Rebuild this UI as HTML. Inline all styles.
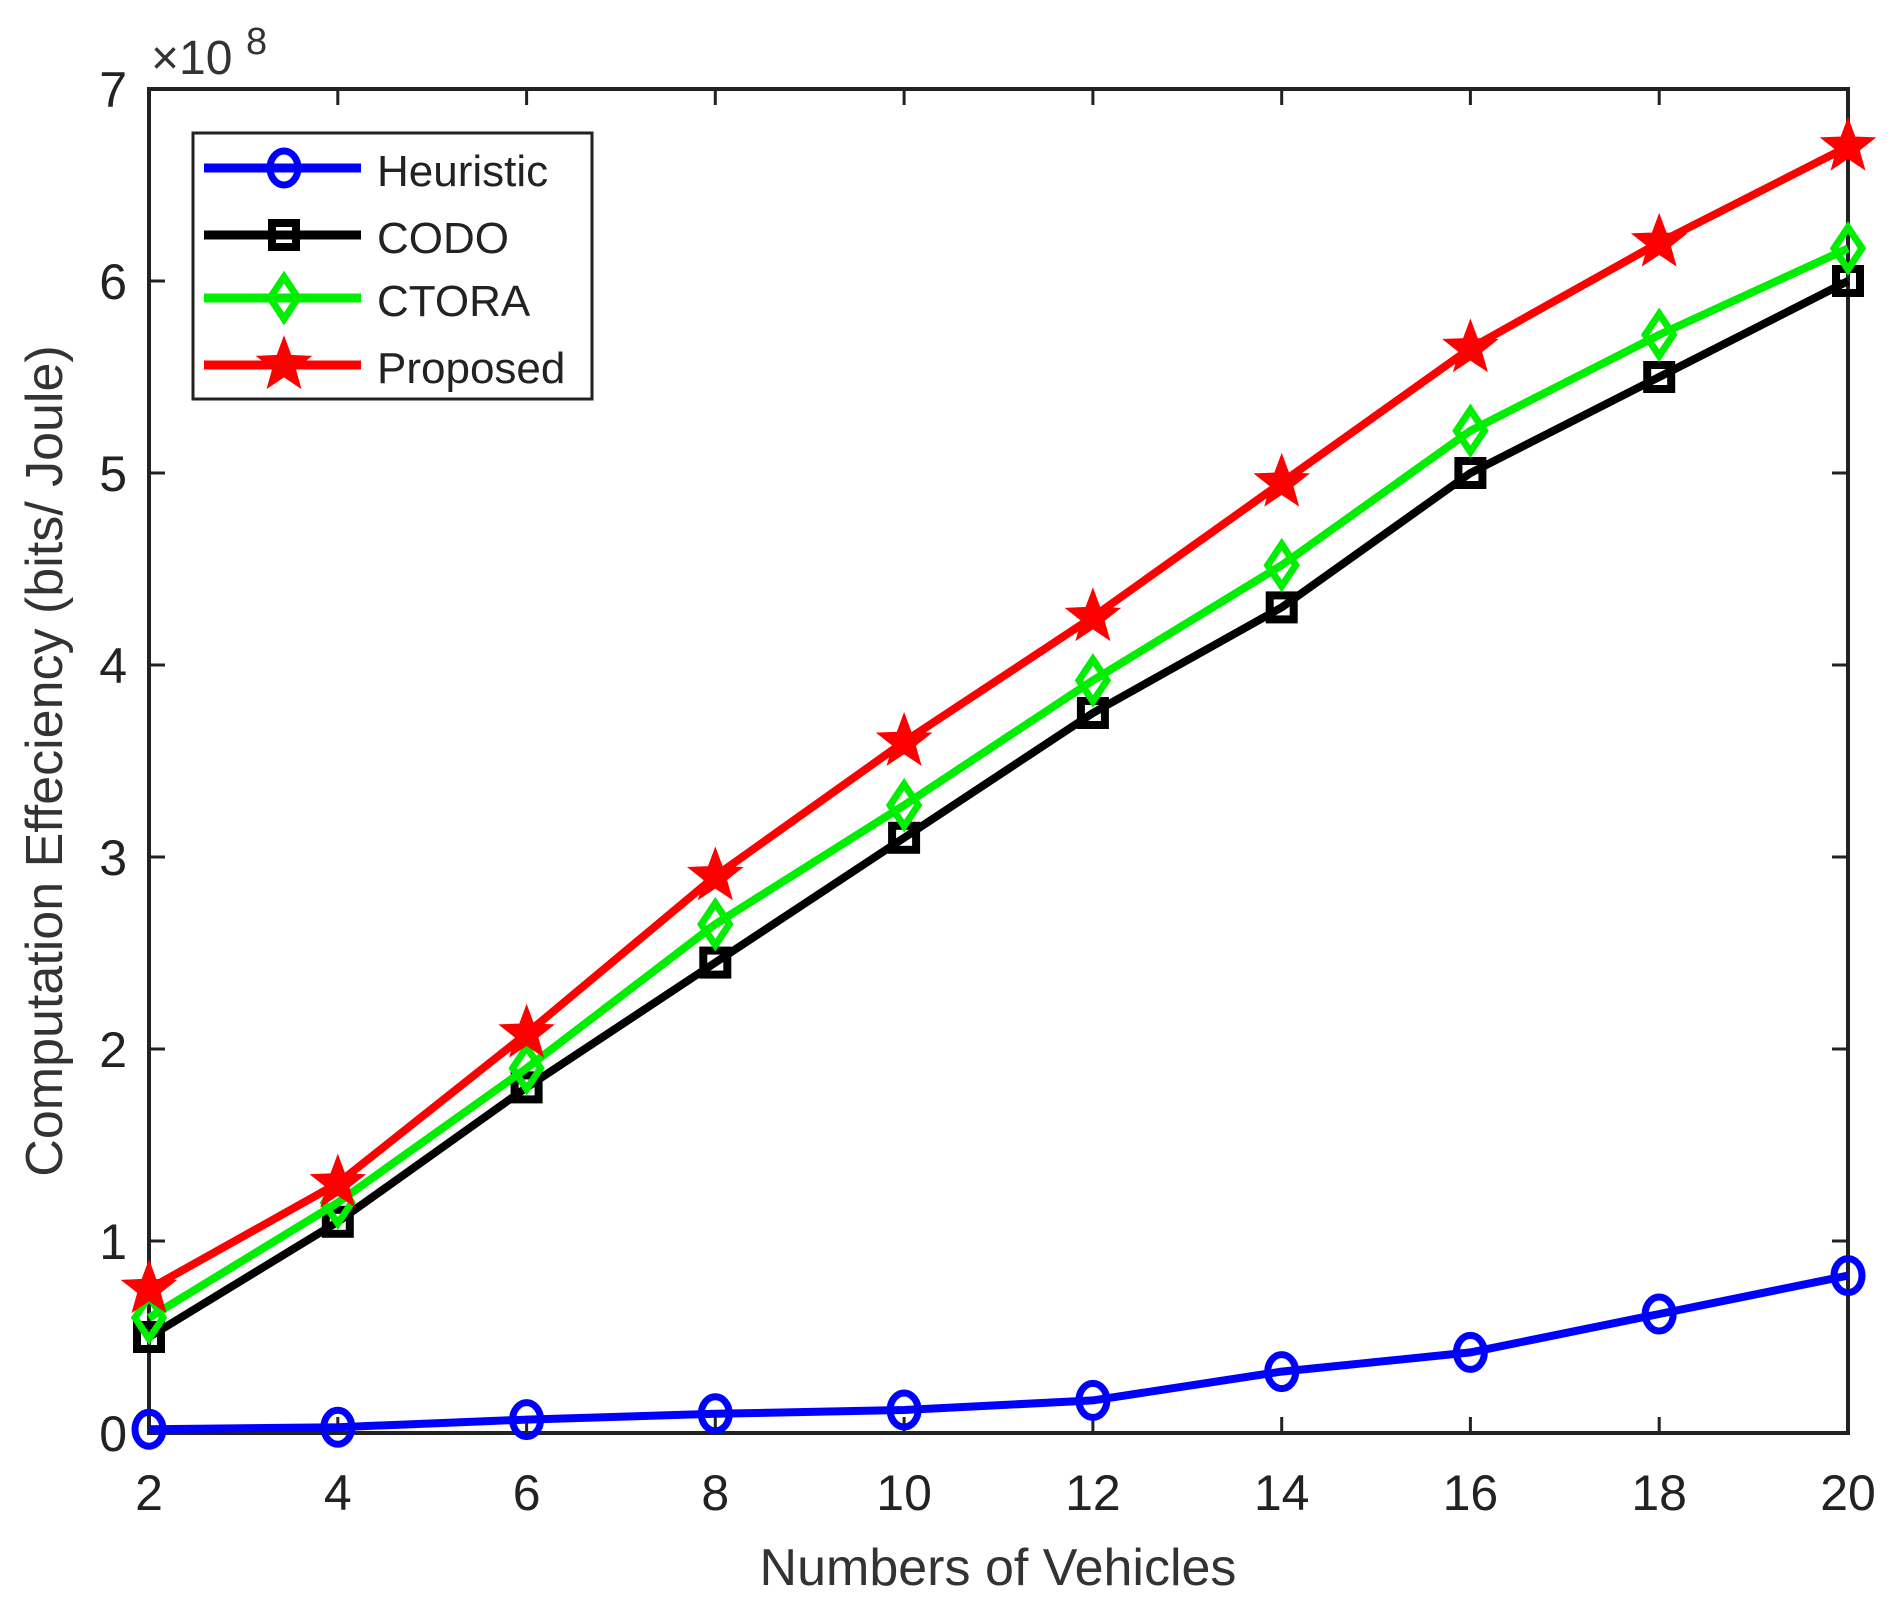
<!DOCTYPE html>
<html><head><style>body{margin:0;background:#fff}</style></head><body>
<svg width="1894" height="1619" xmlns="http://www.w3.org/2000/svg" font-family="Liberation Sans, sans-serif">
<defs>
<ellipse id="mh" cx="0" cy="0" rx="14" ry="17" fill="none" stroke="#0000ff" stroke-width="7"/>
<rect id="mc" x="-12" y="-12" width="24" height="24" fill="none" stroke="#000" stroke-width="8"/>
<polygon id="mt" points="0,-21 14,0 0,21 -14,0" fill="none" stroke="#00ee00" stroke-width="7"/>
<polygon id="mp" points="0,-24 5.9,-8.1 22.8,-7.4 9.5,3.1 14.1,19.4 0,10 -14.1,19.4 -9.5,3.1 -22.8,-7.4 -5.9,-8.1" fill="#ff0000" stroke="#ff0000" stroke-width="4"/>
</defs>
<rect width="1894" height="1619" fill="#fff"/>
<g stroke="#222" stroke-width="3">
<path d="M337.8 1433v-16M526.6 1433v-16M715.3 1433v-16M904.1 1433v-16M1092.9 1433v-16M1281.7 1433v-16M1470.4 1433v-16M1659.2 1433v-16
M337.8 89v16M526.6 89v16M715.3 89v16M904.1 89v16M1092.9 89v16M1281.7 89v16M1470.4 89v16M1659.2 89v16
M149 1241h16M149 1049h16M149 857h16M149 665h16M149 473h16M149 281h16
M1848 1241h-16M1848 1049h-16M1848 857h-16M1848 665h-16M1848 473h-16M1848 281h-16"/>
</g>
<rect x="149" y="89" width="1699" height="1344" fill="none" stroke="#222" stroke-width="4"/>
<g font-size="50" text-anchor="middle" fill="#222">
<text x="149" y="1510">2</text><text x="337.8" y="1510">4</text><text x="526.6" y="1510">6</text><text x="715.3" y="1510">8</text><text x="904.1" y="1510">10</text><text x="1092.9" y="1510">12</text><text x="1281.7" y="1510">14</text><text x="1470.4" y="1510">16</text><text x="1659.2" y="1510">18</text><text x="1848" y="1510">20</text>
</g>
<g font-size="50" text-anchor="end" fill="#222">
<text x="127" y="1451">0</text><text x="127" y="1259">1</text><text x="127" y="1067">2</text><text x="127" y="875">3</text><text x="127" y="683">4</text><text x="127" y="491">5</text><text x="127" y="299">6</text><text x="127" y="107">7</text>
</g>
<text x="151" y="74" font-size="48" fill="#333">×10</text><text x="246" y="54" font-size="38" fill="#333">8</text>
<text x="998" y="1585" font-size="52" text-anchor="middle" fill="#333">Numbers of Vehicles</text>
<text transform="translate(62,761) rotate(-90)" font-size="52" text-anchor="middle" fill="#333">Computation Effeciency (bits/ Joule)</text>

<polyline fill="none" stroke="#0000ff" stroke-width="8" points="149,1429.2 337.8,1427.2 526.6,1419.6 715.3,1413.8 904.1,1410 1092.9,1400.4 1281.7,1371.6 1470.4,1352.4 1659.2,1314 1848,1275.6"/>
<use href="#mh" x="149" y="1429.2"/><use href="#mh" x="337.8" y="1427.2"/><use href="#mh" x="526.6" y="1419.6"/><use href="#mh" x="715.3" y="1413.8"/><use href="#mh" x="904.1" y="1410"/><use href="#mh" x="1092.9" y="1400.4"/><use href="#mh" x="1281.7" y="1371.6"/><use href="#mh" x="1470.4" y="1352.4"/><use href="#mh" x="1659.2" y="1314"/><use href="#mh" x="1848" y="1275.6"/>

<polyline fill="none" stroke="#000" stroke-width="8" points="149,1337 337.8,1221.8 526.6,1087.4 715.3,962.6 904.1,837.8 1092.9,713 1281.7,607.4 1470.4,473 1659.2,377 1848,281"/>
<use href="#mc" x="149" y="1337"/><use href="#mc" x="337.8" y="1221.8"/><use href="#mc" x="526.6" y="1087.4"/><use href="#mc" x="715.3" y="962.6"/><use href="#mc" x="904.1" y="837.8"/><use href="#mc" x="1092.9" y="713"/><use href="#mc" x="1281.7" y="607.4"/><use href="#mc" x="1470.4" y="473"/><use href="#mc" x="1659.2" y="377"/><use href="#mc" x="1848" y="281"/>

<polyline fill="none" stroke="#00ee00" stroke-width="8" points="149,1317.8 337.8,1202.6 526.6,1068.2 715.3,924.2 904.1,805.2 1092.9,680.4 1281.7,565.2 1470.4,430.8 1659.2,334.8 1848,248.4"/>
<use href="#mt" x="149" y="1317.8"/><use href="#mt" x="337.8" y="1202.6"/><use href="#mt" x="526.6" y="1068.2"/><use href="#mt" x="715.3" y="924.2"/><use href="#mt" x="904.1" y="805.2"/><use href="#mt" x="1092.9" y="680.4"/><use href="#mt" x="1281.7" y="565.2"/><use href="#mt" x="1470.4" y="430.8"/><use href="#mt" x="1659.2" y="334.8"/><use href="#mt" x="1848" y="248.4"/>

<polyline fill="none" stroke="#ff0000" stroke-width="8" points="149,1289 337.8,1183.4 526.6,1033.6 715.3,876.2 904.1,741.8 1092.9,617 1281.7,482.6 1470.4,348.2 1659.2,242.6 1848,146.6"/>
<use href="#mp" x="149" y="1289"/><use href="#mp" x="337.8" y="1183.4"/><use href="#mp" x="526.6" y="1033.6"/><use href="#mp" x="715.3" y="876.2"/><use href="#mp" x="904.1" y="741.8"/><use href="#mp" x="1092.9" y="617"/><use href="#mp" x="1281.7" y="482.6"/><use href="#mp" x="1470.4" y="348.2"/><use href="#mp" x="1659.2" y="242.6"/><use href="#mp" x="1848" y="146.6"/>

<rect x="193" y="133" width="399" height="266" fill="#fff" stroke="#222" stroke-width="3"/>
<line x1="204" y1="168" x2="361" y2="168" stroke="#0000ff" stroke-width="9"/><use href="#mh" x="284" y="168"/>
<line x1="204" y1="235" x2="361" y2="235" stroke="#000" stroke-width="9"/><use href="#mc" x="284" y="235"/>
<line x1="204" y1="298" x2="361" y2="298" stroke="#00ee00" stroke-width="9"/><use href="#mt" x="284" y="298"/>
<line x1="204" y1="365" x2="361" y2="365" stroke="#ff0000" stroke-width="9"/><use href="#mp" x="284" y="365"/>
<g font-size="44" fill="#222">
<text x="377" y="186">Heuristic</text><text x="377" y="253">CODO</text><text x="377" y="316">CTORA</text><text x="377" y="383">Proposed</text>
</g>
</svg>
</body></html>
